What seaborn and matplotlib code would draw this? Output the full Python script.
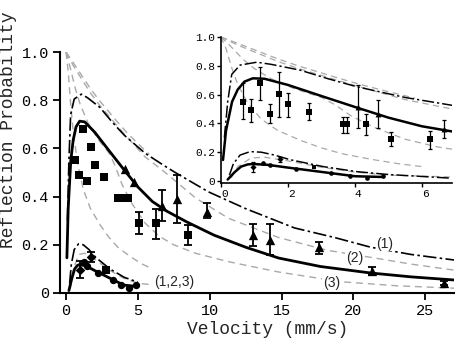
import matplotlib
matplotlib.use('Agg')
import matplotlib.pyplot as plt
import numpy as np
import seaborn as sns

# theory curves: velocity (mm/s) -> reflection probability
v_fit = [0.06, 0.15, 0.33, 0.5, 0.7, 0.95, 1.3, 2.0, 3.0, 4.0, 5.0, 6.0, 7.0, 8.4, 10.3, 12.5, 14.8, 17.7, 21.2, 24.0, 27.0]
p_fit = [0.146, 0.35, 0.55, 0.635, 0.69, 0.713, 0.71, 0.667, 0.59, 0.514, 0.44, 0.38, 0.34, 0.295, 0.24, 0.19, 0.145, 0.11, 0.083, 0.067, 0.054]

v_c1 = [0.1, 0.2, 0.32, 0.57, 1.07, 1.5, 2.36, 3.2, 4.05, 5.5, 6.84, 7.6, 9.9, 12.5, 15.9, 18.7, 21.2, 24.0, 27.0]
p_c1 = [0.30, 0.55, 0.74, 0.805, 0.825, 0.81, 0.77, 0.71, 0.655, 0.58, 0.528, 0.50, 0.42, 0.35, 0.27, 0.23, 0.19, 0.16, 0.137]

v_c2 = [0.0, 0.5, 1.1, 1.7, 2.3, 2.9, 3.4, 4.05, 5.5, 6.9, 8.1, 9.0, 11.3, 14.8, 18.2, 21.2, 24.0, 27.0]
p_c2 = [1.0, 0.944, 0.887, 0.83, 0.782, 0.74, 0.705, 0.66, 0.565, 0.50, 0.44, 0.395, 0.31, 0.23, 0.177, 0.148, 0.12, 0.095]

v_c2b = [0.0, 0.5, 1.1, 1.7, 2.3, 2.9, 3.5, 4.2, 5.0, 5.8]
p_c2b = [1.0, 0.956, 0.902, 0.848, 0.80, 0.758, 0.715, 0.668, 0.62, 0.575]

v_c3 = [0.0, 0.27, 0.66, 1.0, 1.5, 2.2, 3.0, 3.4, 3.9, 4.6, 5.5, 6.5, 7.5, 9.0, 11.3, 14.8, 17.5, 19.1, 23.0, 27.0]
p_c3 = [1.0, 0.94, 0.845, 0.78, 0.71, 0.64, 0.58, 0.53, 0.45, 0.37, 0.29, 0.235, 0.20, 0.165, 0.13, 0.087, 0.062, 0.047, 0.03, 0.02]

v_c4 = [0.0, 0.15, 0.3, 0.5, 0.8, 1.2, 1.7, 2.4, 3.0, 3.6, 4.5, 5.3, 6.0]
p_c4 = [1.0, 0.92, 0.80, 0.67, 0.54, 0.43, 0.35, 0.28, 0.23, 0.19, 0.15, 0.12, 0.10]

# lower group (1,2,3)
v_lo_fit = [0.2, 0.4, 0.6, 0.8, 0.95, 1.4, 2.0, 3.0, 4.0, 4.8]
p_lo_fit = [0.01, 0.06, 0.10, 0.115, 0.118, 0.112, 0.093, 0.063, 0.033, 0.028]
v_lo_c1 = [0.25, 0.37, 0.57, 0.87, 1.2, 1.6, 2.06, 3.05, 4.05, 5.0, 6.84]
p_lo_c1 = [0.04, 0.12, 0.18, 0.204, 0.20, 0.18, 0.148, 0.10, 0.065, 0.045, 0.02]
v_lo_gray = [0.3, 0.5, 0.9, 1.3, 2.0, 3.0, 4.0, 5.0, 5.9, 6.84]
p_lo_gray = [0.02, 0.10, 0.16, 0.165, 0.14, 0.095, 0.062, 0.04, 0.035, 0.028]

# measured points
sq_v = [0.65, 0.9, 1.17, 1.45, 1.72, 2.0, 2.63, 3.65, 3.75, 4.33, 5.07, 6.25, 8.47]
sq_p = [0.551, 0.49, 0.68, 0.466, 0.604, 0.533, 0.482, 0.394, 0.394, 0.394, 0.292, 0.29, 0.24]
sq_lo = [0.123, 0.078, 0.117, 0.066, 0.162, 0.09, 0.058, 0.059, 0.059, 0.075, 0.049, 0.068, 0.041]
sq_hi = [0.127, 0.079, 0.111, 0.068, 0.155, 0.08, 0.058, 0.053, 0.053, 0.069, 0.046, 0.057, 0.042]

tri_v = [4.1, 4.7, 6.65, 7.7, 9.8, 13.0, 14.2, 17.6, 21.3, 26.3]
tri_p = [0.515, 0.462, 0.36, 0.389, 0.337, 0.241, 0.22, 0.19, 0.09, 0.043]
tri_lo = [0.147, 0.096, 0.063, 0.10, 0.027, 0.046, 0.062, 0.028, 0.015, 0.008]
tri_hi = [0.153, 0.10, 0.067, 0.10, 0.035, 0.044, 0.065, 0.023, 0.017, 0.008]

circ_v = [1.25, 1.45, 2.25, 3.3, 3.85, 4.35, 4.85]
circ_p = [0.127, 0.112, 0.083, 0.054, 0.034, 0.022, 0.032]
dia_v = [0.95, 1.76]
dia_p = [0.097, 0.15]
dia_err = [0.036, 0.02]
lsq_v = [2.77]
lsq_p = [0.094]

y_ticks = [0, 0.2, 0.4, 0.6, 0.8, 1.0]
y_labels = ['0', '0.2', '0.4', '0.6', '0.8', '1.0']

sns.set_style('ticks')
plt.rcParams['font.family'] = ['Liberation Mono', 'DejaVu Sans Mono']

GRAY = '#a9a9a9'
DASHDOT = (0, (8, 2, 1.5, 2))
GDASH = (0, (5, 3.5))


def curve(a, v, p, vmax=None, **kw):
    v = np.asarray(v)
    p = np.asarray(p)
    if vmax is not None:
        keep = v <= vmax
        v, p = v[keep], p[keep]
    sns.lineplot(x=v, y=p, ax=a, estimator=None, sort=False, **kw)


def draw_theory(a, s, lo_cut=None, gray_cut=None):
    curve(a, v_c3, p_c3, color=GRAY, lw=1.0 * s, linestyle=GDASH)
    curve(a, v_c4, p_c4, color=GRAY, lw=1.0 * s, linestyle=GDASH)
    curve(a, v_c2, p_c2, color=GRAY, lw=1.0 * s, linestyle=GDASH)
    curve(a, v_c2b, p_c2b, color=GRAY, lw=1.0 * s, linestyle=GDASH)
    curve(a, v_lo_gray, p_lo_gray, vmax=gray_cut, color=GRAY, lw=1.0 * s, linestyle=GDASH)
    curve(a, v_c1, p_c1, color='black', lw=1.2 * s, linestyle=DASHDOT)
    curve(a, v_lo_c1, p_lo_c1, vmax=lo_cut, color='black', lw=1.2 * s, linestyle=DASHDOT)
    curve(a, v_fit, p_fit, color='black', lw=2.0 * s)
    curve(a, v_lo_fit, p_lo_fit, color='black', lw=2.0 * s)


def draw_points(a, scale, bars_from_sq, bars_from_tri, vmax, cap, elw):
    sv, sp = np.array(sq_v), np.array(sq_p)
    slo, shi = np.array(sq_lo), np.array(sq_hi)
    m = (sv >= bars_from_sq) & (sv <= vmax)
    a.errorbar(sv[m], sp[m], yerr=[slo[m], shi[m]], fmt='none', ecolor='black',
               elinewidth=elw, capsize=cap, capthick=elw, zorder=4)
    tv, tp = np.array(tri_v), np.array(tri_p)
    tlo, thi = np.array(tri_lo), np.array(tri_hi)
    m = (tv >= bars_from_tri) & (tv <= vmax)
    a.errorbar(tv[m], tp[m], yerr=[tlo[m], thi[m]], fmt='none', ecolor='black',
               elinewidth=elw, capsize=cap, capthick=elw, zorder=4)
    a.errorbar(dia_v, dia_p, yerr=dia_err, fmt='none', ecolor='black',
               elinewidth=elw, capsize=cap, capthick=elw, zorder=4)
    sns.scatterplot(x=sq_v, y=sq_p, ax=a, marker='s', s=33 * scale, color='black',
                    edgecolor='black', linewidth=0, zorder=5)
    sns.scatterplot(x=tri_v, y=tri_p, ax=a, marker='^', s=45 * scale, color='black',
                    edgecolor='black', linewidth=0, zorder=5)
    sns.scatterplot(x=circ_v, y=circ_p, ax=a, marker='o', s=28 * scale, color='black',
                    edgecolor='black', linewidth=0, zorder=5)
    sns.scatterplot(x=dia_v, y=dia_p, ax=a, marker='D', s=24 * scale, color='black',
                    edgecolor='black', linewidth=0, zorder=5)
    sns.scatterplot(x=lsq_v, y=lsq_p, ax=a, marker='s', s=30 * scale, color='black',
                    edgecolor='black', linewidth=0, zorder=5)


fig = plt.figure(figsize=(4.74, 3.47), dpi=100)
ax = fig.add_axes([60 / 474, 1 - 293 / 347, 394 / 474, 241 / 347])
ins = fig.add_axes([221 / 474, 1 - 183 / 347, 231 / 474, 146 / 347])

# main panel
draw_theory(ax, 1.0, lo_cut=5.0, gray_cut=5.9)
draw_points(ax, 1.0, 5.0, 6.0, 30, 2.6, 1.3)
ax.set_xlim(-0.42, 27.0)
ax.set_ylim(0, 1.0)
ax.set_xticks([0, 5, 10, 15, 20, 25])
ax.set_yticks(y_ticks)
ax.set_yticklabels(y_labels)
ax.tick_params(direction='out', length=5, width=1.3, labelsize=11, pad=3, colors='black')
for side in ['top', 'right']:
    ax.spines[side].set_visible(False)
for side in ['left', 'bottom']:
    ax.spines[side].set_linewidth(1.5)
    ax.spines[side].set_color('black')
ax.set_xlabel('Velocity (mm/s)', fontsize=13, va='top')
ax.set_ylabel('Reflection Probability', fontsize=13)
ax.xaxis.set_label_coords(0.528, -0.115)
ax.yaxis.set_label_coords(-0.11, 0.676)

lab = dict(fontsize=10, family=['Liberation Sans', 'DejaVu Sans'], ha='center', va='center',
           bbox=dict(facecolor='white', edgecolor='none', pad=0.6), zorder=6)
ax.text(22.2, 0.205, '(1)', **lab)
ax.text(20.1, 0.146, '(2)', **lab)
ax.text(18.5, 0.043, '(3)', **lab)
ax.text(7.5, 0.047, '(1,2,3)', **lab)

# inset
draw_theory(ins, 0.9)
draw_points(ins, 0.4, 0.0, 0.0, 6.9, 1.6, 0.9)
ins.set_xlim(0, 6.9)
ins.set_ylim(-0.014, 1.0)
ins.set_xticks([0, 2, 4, 6])
ins.set_yticks(y_ticks)
ins.set_yticklabels(y_labels)
for t in ins.get_xticklabels():
    t.set_horizontalalignment('left')
ins.tick_params(direction='out', length=3, width=1.0, labelsize=8, pad=1.5, colors='black')
ins.set_xlabel('')
ins.set_ylabel('')
for side in ['top', 'right']:
    ins.spines[side].set_visible(False)
for side in ['left', 'bottom']:
    ins.spines[side].set_linewidth(1.2)
    ins.spines[side].set_color('black')
ins.patch.set_alpha(0)

fig.savefig('out.png', dpi=100)
